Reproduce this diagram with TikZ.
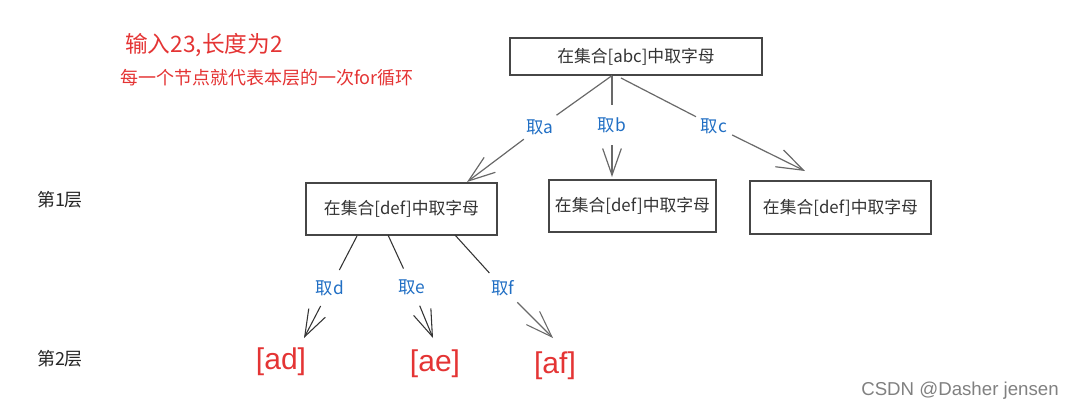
\documentclass[tikz,border=0pt]{standalone}
\usepackage{fontspec}
\setmainfont{Noto Sans CJK SC}
\newfontfamily\latinsans{Liberation Sans}
\usetikzlibrary{arrows.meta}
\definecolor{notered}{RGB}{228,52,52}
\definecolor{takeblue}{RGB}{33,111,196}
\definecolor{linegray}{RGB}{105,105,105}
\definecolor{boxgray}{RGB}{70,70,70}
\tikzset{
  setbox/.style={draw=boxgray, line width=0.9pt, inner sep=0pt, minimum height=39pt, text=black!80, font=\fontsize{12.6}{15}\selectfont},
  take/.style={circle, inner sep=0pt, minimum size=30pt, text=takeblue, font=\fontsize{13}{15}\selectfont},
  level/.style={inner sep=0pt, text=black!85, font=\fontsize{13.5}{16}\selectfont},
  result/.style={inner sep=0pt, text=notered, font=\latinsans\fontsize{22.5}{26}\selectfont},
  link/.style={draw=linegray, line width=0.9pt},
  sublink/.style={draw=black!80, line width=0.8pt},
  barb/.style={-{Straight Barb[length=20pt,width=14pt]}},
  watermark/.style={inner sep=0pt, text=black!50, font=\latinsans\fontsize{14}{16}\selectfont}
}
\begin{document}
\begin{tikzpicture}[x=0.75pt,y=-0.75pt]
\useasboundingbox (0,0) rectangle (1065,412);

% notes
\node[inner sep=0pt, text=notered, font=\fontsize{17}{20}\selectfont] (title) at (204,45) {输入23,长度为2};
\node[inner sep=0pt, text=notered, font=\fontsize{13.5}{16}\selectfont] (hint) at (267,78) {每一个节点就代表本层的一次for循环};
\node[level] (lv1) at (60,200) {第1层};
\node[level] (lv2) at (60,359) {第2层};

% sets
\node[setbox, minimum width=189pt, minimum height=27.75pt] (abc) at (636,56.5) {在集合[abc]中取字母};
\node[setbox, minimum width=143.25pt] (defa) at (401.5,209) {在集合[def]中取字母};
\node[setbox, minimum width=125.25pt] (defb) at (632.5,206) {在集合[def]中取字母};
\node[setbox, minimum width=135.75pt, minimum height=39.75pt] (defc) at (840.5,207.5) {在集合[def]中取字母};

% choices
\node[take] (ta) at (540,127) {取a};
\node[take] (tb) at (612,125) {取b};
\node[take] (tc) at (714,126) {取c};
\node[take] (td) at (330,288) {取d};
\node[take] (te) at (412,287) {取e};
\node[take] (tf) at (503,288) {取f};

% results
\node[result] (ad) at (281,362) {[ad]};
\node[result] (ae) at (435,364) {[ae]};
\node[result] (af) at (555,366) {[af]};

\node[watermark] (csdn) at (960,391) {CSDN @Dasher jensen};

\coordinate (fromc) at (621,78);
\coordinate (toa) at (467,182);
\coordinate (tob) at (612,177);
\coordinate (toc) at (805,171);
\coordinate (fromd) at (357,236);
\coordinate (frome) at (388,235);
\coordinate (fromf) at (455,235);
\coordinate (tod) at (304,338);
\coordinate (toe) at (433,338);
\coordinate (tof) at (553,338);

\path[link] (abc.south -| tb) -- (ta);
\path[link] (abc.south -| tb) -- (tb);
\path[link] (fromc) -- (tc);
\path[link,barb] (ta) -- (toa);
\path[link,barb] (tb) -- (tob);
\path[link,barb] (tc) -- (toc);

\path[sublink] (fromd) -- (td);
\path[sublink] (frome) -- (te);
\path[sublink] (fromf) -- (tf);
\path[sublink,barb] (td) -- (tod);
\path[sublink,barb] (te) -- (toe);
\path[sublink,barb,draw=linegray] (tf) -- (tof);
\end{tikzpicture}
\end{document}
